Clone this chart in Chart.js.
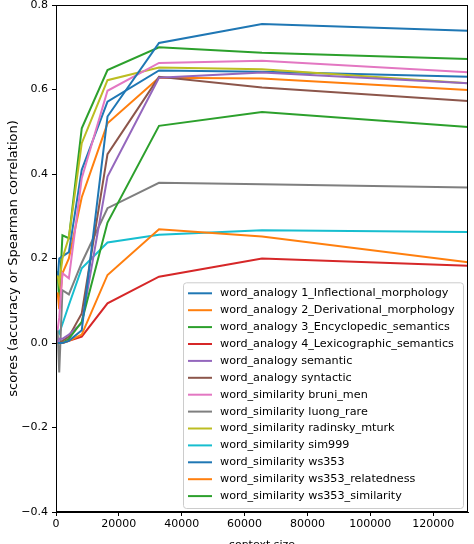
<!DOCTYPE html>
<html>
<head>
<meta charset="utf-8">
<script src="https://cdn.jsdelivr.net/npm/chart.js@4.4.0/dist/chart.umd.min.js"></script>
<style>
html, body { margin: 0; padding: 0; background: #fff; }
</style>
</head>
<body>
<canvas id="scoresChart" width="474" height="544"></canvas>
<script>
// context sizes (x) shared by every series
const contextSizes = [512, 1024, 2048, 4096, 8192, 16384, 32768, 65536, 131072];

const xTicks = [0, 20000, 40000, 60000, 80000, 100000, 120000];
const yTicks = [-0.4, -0.2, 0.0, 0.2, 0.4, 0.6, 0.8];

const seriesNames = [
    'word_analogy 1_Inflectional_morphology',
    'word_analogy 2_Derivational_morphology',
    'word_analogy 3_Encyclopedic_semantics',
    'word_analogy 4_Lexicographic_semantics',
    'word_analogy semantic',
    'word_analogy syntactic',
    'word_similarity bruni_men',
    'word_similarity luong_rare',
    'word_similarity radinsky_mturk',
    'word_similarity sim999',
    'word_similarity ws353',
    'word_similarity ws353_relatedness',
    'word_similarity ws353_similarity'
];

const inflectional   = [0.0, 0.0, 0.0, 0.005, 0.03, 0.536, 0.71, 0.755, 0.739];
const derivational   = [0.0, 0.0, 0.0, 0.005, 0.02, 0.161, 0.269, 0.252, 0.191];
const encyclopedic   = [0.0, 0.0, 0.0, 0.01, 0.05, 0.285, 0.514, 0.547, 0.511];
const lexicographic  = [0.0, 0.0, 0.0, 0.005, 0.015, 0.094, 0.157, 0.2, 0.183];
const semantic       = [0.0, 0.01, 0.01, 0.02, 0.047, 0.394, 0.628, 0.64, 0.615];
const syntactic      = [0.0, 0.0, 0.005, 0.015, 0.07, 0.447, 0.63, 0.605, 0.573];
const bruniMen       = [0.03, 0.06, 0.165, 0.153, 0.39, 0.597, 0.663, 0.668, 0.641];
const luongRare      = [0.03, -0.07, 0.125, 0.115, 0.19, 0.319, 0.379, 0.376, 0.368];
const radinskyMturk  = [0.16, 0.14, 0.2, 0.25, 0.473, 0.622, 0.652, 0.648, 0.615];
const sim999         = [0.03, 0.023, 0.045, 0.09, 0.177, 0.238, 0.256, 0.267, 0.263];
const ws353          = [0.15, 0.2, 0.205, 0.215, 0.41, 0.571, 0.645, 0.642, 0.63];
const ws353Related   = [0.12, 0.08, 0.165, 0.2, 0.345, 0.52, 0.628, 0.626, 0.599];
const ws353Similar   = [0.17, 0.098, 0.255, 0.248, 0.508, 0.646, 0.70, 0.687, 0.672];

const seriesValues = [inflectional, derivational, encyclopedic, lexicographic, semantic,
    syntactic, bruniMen, luongRare, radinskyMturk, sim999, ws353, ws353Related, ws353Similar];

// matplotlib default colour cycle
const palette = ['#1f77b4', '#ff7f0e', '#2ca02c', '#d62728', '#9467bd', '#8c564b',
    '#e377c2', '#7f7f7f', '#bcbd22', '#17becf'];

const FONT = 'DejaVu Sans';

const datasets = seriesNames.map(function (name, i) {
    return {
        label: name,
        data: contextSizes.map(function (x, j) { return { x: x, y: seriesValues[i][j] }; }),
        borderColor: palette[i % palette.length],
        backgroundColor: palette[i % palette.length],
        borderWidth: 2,
        pointRadius: 0,
        tension: 0,
        fill: false
    };
});

// top/right spines
const frameBox = {
    id: 'frameBox',
    afterDatasetsDraw(chart) {
        const a = chart.chartArea, c = chart.ctx;
        c.save();
        c.strokeStyle = '#000';
        c.lineWidth = 1;
        c.strokeRect(a.left + 0.5, a.top + 0.5, a.right - a.left - 1, a.bottom - a.top - 1);
        c.restore();
    }
};

// legend drawn inside the plot, lower right, like matplotlib
const innerLegend = {
    id: 'innerLegend',
    afterDraw(chart) {
        const c = chart.ctx, a = chart.chartArea;
        const rowH = 16.9;
        const boxR = a.right - 5, boxB = a.bottom - 4;
        const boxL = 183, boxT = boxB - rowH * chart.data.datasets.length - 6;
        c.save();
        c.fillStyle = 'rgba(255,255,255,0.85)';
        c.strokeStyle = '#cccccc';
        c.lineWidth = 1;
        c.beginPath();
        c.roundRect(boxL + 0.5, boxT + 0.5, boxR - boxL, boxB - boxT, 3);
        c.fill();
        c.stroke();
        c.font = '11.2px "' + FONT + '"';
        c.textBaseline = 'middle';
        c.fillStyle = '#000';
        chart.data.datasets.forEach(function (ds, i) {
            const y = boxT + 11 + i * rowH;
            c.strokeStyle = ds.borderColor;
            c.lineWidth = 2;
            c.beginPath();
            c.moveTo(boxL + 5, y);
            c.lineTo(boxL + 29, y);
            c.stroke();
            c.fillText(ds.label, boxL + 37, y);
        });
        c.restore();
    }
};

const chart = new Chart(document.getElementById('scoresChart').getContext('2d'), {
    type: 'line',
    data: { datasets: datasets },
    options: {
        responsive: false,
        animation: false,
        devicePixelRatio: 1,
        layout: { padding: { top: 5, right: 6, left: 0, bottom: 0 } },
        plugins: {
            legend: { display: false },
            tooltip: { enabled: false }
        },
        scales: {
            x: {
                type: 'linear',
                min: 0,
                max: 131072,
                afterBuildTicks: function (scale) {
                    scale.ticks = xTicks.map(function (v) { return { value: v }; });
                },
                afterFit: function (scale) { scale.height = 32; },
                grid: { display: true, drawOnChartArea: false, drawTicks: true, tickLength: 4, color: '#000' },
                border: { display: true, color: '#000', width: 1 },
                ticks: {
                    color: '#000',
                    padding: 2,
                    maxRotation: 0,
                    font: { family: FONT, size: 11 },
                    callback: function (v) { return String(v); }
                },
                title: {
                    display: true,
                    text: 'context size',
                    color: '#000',
                    font: { family: FONT, size: 11 },
                    padding: { top: 0, bottom: -8 }
                }
            },
            y: {
                min: -0.4,
                max: 0.8,
                afterBuildTicks: function (scale) {
                    scale.ticks = yTicks.map(function (v) { return { value: v }; });
                },
                afterFit: function (scale) {
                    scale.width = 56;
                    scale.paddingTop = 0;
                    scale.paddingBottom = 0;
                },
                grid: { display: true, drawOnChartArea: false, drawTicks: true, tickLength: 4, color: '#000' },
                border: { display: true, color: '#000', width: 1 },
                ticks: {
                    color: '#000',
                    padding: 4,
                    font: { family: FONT, size: 11, lineHeight: 0.6 },
                    callback: function (v) { return v.toFixed(1).replace('-', '\u2212'); }
                },
                title: {
                    display: true,
                    text: 'scores (accuracy or Spearman correlation)',
                    color: '#000',
                    font: { family: FONT, size: 13 },
                    padding: { top: 6, bottom: 0 }
                }
            }
        }
    },
    plugins: [frameBox, innerLegend]
});
</script>
</body>
</html>
